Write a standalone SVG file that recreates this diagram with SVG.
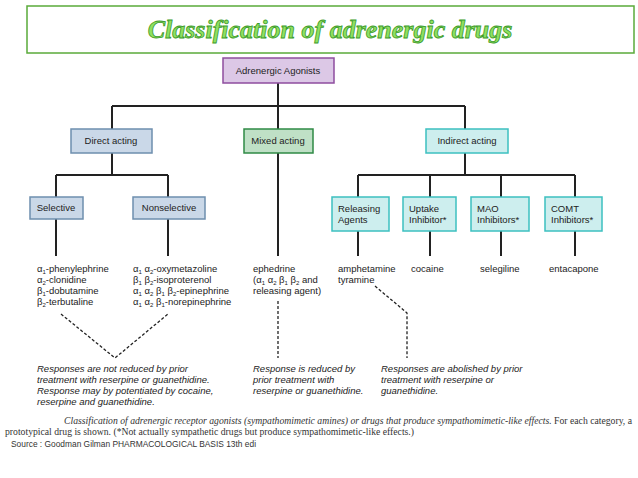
<svg xmlns="http://www.w3.org/2000/svg" width="638" height="478" viewBox="0 0 638 478">
<style>
.n{font-family:"Liberation Sans",Arial,sans-serif;font-size:9.5px;fill:#222}
.d{font-family:"Liberation Sans",Arial,sans-serif;font-size:9.5px;fill:#222}
.i{font-family:"Liberation Sans",Arial,sans-serif;font-size:9.5px;font-style:italic;fill:#222}
.ln{stroke:#222;stroke-width:2;fill:none}
.ds{stroke:#222;stroke-width:1.3;fill:none;stroke-dasharray:3,2}
.pu{fill:#dcc8e6;stroke:#8e4d9f;stroke-width:1.5}
.bl{fill:#cad8e8;stroke:#6e8fae;stroke-width:1.5}
.gr{fill:#bfe0c6;stroke:#2f8a45;stroke-width:1.5}
.cy{fill:#cdeeee;stroke:#3cc0c0;stroke-width:1.5}
</style>
<rect x="0" y="0" width="638" height="478" fill="#fff"/>
<g id="title">
<rect x="27" y="6" width="607" height="47" fill="#fff" stroke="#5aaa3a" stroke-width="1.5"/>
<text x="330" y="38" text-anchor="middle" font-family="'Liberation Serif',serif" font-size="26" font-style="italic" font-weight="bold" fill="#8fe060" stroke="#3a9a2a" stroke-width="0.8">Classification of adrenergic drugs</text>
</g>
<g id="connectors">
<path class="ln" d="M278 83V106M112 106H465M112 106V129M278 106V129M465 106V129"/>
<path class="ln" d="M112 153V175M56 175H168M56 175V197M168 175V197M56 219V256M168 219V256"/>
<path class="ln" d="M278 153V256"/>
<path class="ln" d="M465 153V175M358 175H575M358 175V197M430 175V197M501 175V197M575 175V197"/>
<path class="ln" d="M358 231V256M430 231V256M501 231V256M575 231V256"/>
<path class="ds" d="M61 314L115 358L168 314"/>
<path class="ds" d="M278 301V358" stroke-width="2"/>
<path class="ds" d="M375 286L407 313V358" stroke-width="1.6"/>
</g>
<g id="agonists"><rect class="pu" x="223" y="58" width="111" height="25"/><text class="n" x="278" y="74" text-anchor="middle">Adrenergic Agonists</text></g>
<g id="direct"><rect class="bl" x="71" y="129" width="81" height="24"/><text class="n" x="111" y="144" text-anchor="middle">Direct acting</text></g>
<g id="mixed"><rect class="gr" x="244" y="129" width="69" height="24"/><text class="n" x="278" y="144" text-anchor="middle">Mixed acting</text></g>
<g id="indirect"><rect class="cy" x="426" y="129" width="82" height="24"/><text class="n" x="467" y="144" text-anchor="middle">Indirect acting</text></g>
<g id="selective"><rect class="bl" x="30" y="197" width="53" height="22"/><text class="n" x="56" y="211" text-anchor="middle">Selective</text></g>
<g id="nonselective"><rect class="bl" x="133" y="197" width="72" height="22"/><text class="n" x="169" y="211" text-anchor="middle">Nonselective</text></g>
<g id="releasing"><rect class="cy" x="332" y="197" width="57" height="34"/><text class="n" x="338" y="212">Releasing</text><text class="n" x="338" y="223">Agents</text></g>
<g id="uptake"><rect class="cy" x="403" y="197" width="53" height="34"/><text class="n" x="409" y="212">Uptake</text><text class="n" x="409" y="223">Inhibitor*</text></g>
<g id="mao"><rect class="cy" x="471" y="197" width="58" height="34"/><text class="n" x="477" y="212">MAO</text><text class="n" x="477" y="223">Inhibitors*</text></g>
<g id="comt"><rect class="cy" x="545" y="197" width="57" height="34"/><text class="n" x="551" y="212">COMT</text><text class="n" x="551" y="223">Inhibitors*</text></g>
<g id="drugs">
<text class="d" x="37" y="272">α<tspan font-size="6" dy="2">1</tspan><tspan dy="-2">-phenylephrine</tspan></text>
<text class="d" x="37" y="283">α<tspan font-size="6" dy="2">2</tspan><tspan dy="-2">-clonidine</tspan></text>
<text class="d" x="37" y="294">β<tspan font-size="6" dy="2">1</tspan><tspan dy="-2">-dobutamine</tspan></text>
<text class="d" x="37" y="305">β<tspan font-size="6" dy="2">2</tspan><tspan dy="-2">-terbutaline</tspan></text>
<text class="d" x="133" y="272">α<tspan font-size="6" dy="2">1</tspan><tspan dy="-2"> α</tspan><tspan font-size="6" dy="2">2</tspan><tspan dy="-2">-oxymetazoline</tspan></text>
<text class="d" x="133" y="283">β<tspan font-size="6" dy="2">1</tspan><tspan dy="-2"> β</tspan><tspan font-size="6" dy="2">2</tspan><tspan dy="-2">-isoproterenol</tspan></text>
<text class="d" x="133" y="294">α<tspan font-size="6" dy="2">1</tspan><tspan dy="-2"> α</tspan><tspan font-size="6" dy="2">2</tspan><tspan dy="-2"> β</tspan><tspan font-size="6" dy="2">1</tspan><tspan dy="-2"> β</tspan><tspan font-size="6" dy="2">2</tspan><tspan dy="-2">-epinephrine</tspan></text>
<text class="d" x="133" y="305">α<tspan font-size="6" dy="2">1</tspan><tspan dy="-2"> α</tspan><tspan font-size="6" dy="2">2</tspan><tspan dy="-2"> β</tspan><tspan font-size="6" dy="2">1</tspan><tspan dy="-2">-norepinephrine</tspan></text>
<text class="d" x="253" y="272">ephedrine</text>
<text class="d" x="253" y="283">(α<tspan font-size="6" dy="2">1</tspan><tspan dy="-2"> α</tspan><tspan font-size="6" dy="2">2</tspan><tspan dy="-2"> β</tspan><tspan font-size="6" dy="2">1</tspan><tspan dy="-2"> β</tspan><tspan font-size="6" dy="2">2</tspan><tspan dy="-2"> and</tspan></text>
<text class="d" x="253" y="294">releasing agent)</text>
<text class="d" x="338" y="272">amphetamine</text>
<text class="d" x="338" y="283">tyramine</text>
<text class="d" x="411" y="272">cocaine</text>
<text class="d" x="480" y="272">selegiline</text>
<text class="d" x="549" y="272">entacapone</text>
</g>
<g id="notes">
<text class="i" x="37" y="372">Responses are not reduced by prior</text>
<text class="i" x="37" y="383">treatment with reserpine or guanethidine.</text>
<text class="i" x="37" y="394">Response may by potentiated by cocaine,</text>
<text class="i" x="37" y="405">reserpine and guanethidine.</text>
<text class="i" x="253" y="372">Response is reduced by</text>
<text class="i" x="253" y="383">prior treatment with</text>
<text class="i" x="253" y="394">reserpine or guanethidine.</text>
<text class="i" x="381" y="372">Responses are abolished by prior</text>
<text class="i" x="381" y="383">treatment with reserpine or</text>
<text class="i" x="381" y="394">guanethidine.</text>
</g>
<g id="caption" font-family="'Liberation Serif',serif" font-size="9.5" fill="#333">
<text x="64" y="424" textLength="568" lengthAdjust="spacingAndGlyphs"><tspan font-style="italic">Classification of adrenergic receptor agonists (sympathomimetic amines) or drugs that produce sympathomimetic-like effects.</tspan> For each category, a</text>
<text x="5" y="435" textLength="409" lengthAdjust="spacingAndGlyphs">prototypical drug is shown. (*Not actually sympathetic drugs but produce sympathomimetic-like effects.)</text>
<text x="11" y="447" font-family="'Liberation Sans',Arial,sans-serif" font-size="8.5" textLength="245" lengthAdjust="spacingAndGlyphs">Source : Goodman Gilman PHARMACOLOGICAL BASIS 13th edi</text>
</g>
</svg>
